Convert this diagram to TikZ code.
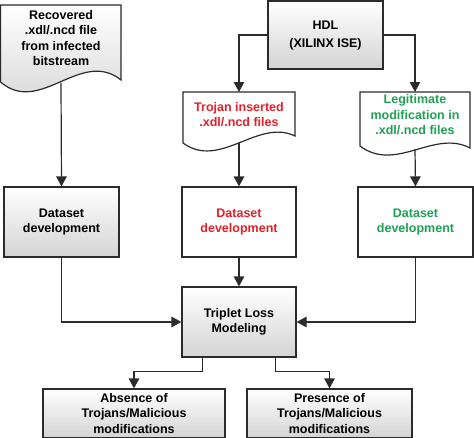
\documentclass[tikz,border=0pt]{standalone}
\usepackage{fontspec}
\setmainfont{Liberation Sans}
\usetikzlibrary{arrows.meta,calc}
\definecolor{tred}{HTML}{E3202A}
\definecolor{tgreen}{HTML}{1FA055}
\definecolor{edge}{HTML}{2B2B2B}
\tikzset{
  box/.style={draw=edge,line width=1.2pt,rectangle,inner sep=0pt,align=center,
    font=\bfseries\fontsize{12.5}{15.5}\selectfont},
  grad/.style={top color=white,bottom color=black!17},
  plain/.style={fill=white},
  doctext/.style={align=center,inner sep=0pt,font=\bfseries\fontsize{12.5}{15.5}\selectfont},
  docshape/.style={draw=edge,line width=1.2pt},
  arr/.style={draw=edge,line width=1.2pt,-{Triangle[length=10pt,width=10.5pt]}},
  ln/.style={draw=edge,line width=1.2pt}
}
\begin{document}
\begin{tikzpicture}[x=1pt,y=-1pt]
\useasboundingbox (0,0) rectangle (474,437);
\begin{scope}
\clip (0,0) rectangle (474,437);
% documents
\path[docshape,grad] (0.6,5) -- (121,5) -- (121,80) .. controls (81,48) and (40,116) .. (0.6,82) -- cycle;
\path[docshape,plain] (183,92) -- (295,92) -- (295,136) .. controls (258,118) and (220,170) .. (183,143) -- cycle;
\path[docshape,plain] (360,92) -- (470,92) -- (470,148) .. controls (434,129) and (396,173) .. (360,146) -- cycle;
\coordinate (doc1b) at (61,83);
\coordinate (trojb) at (239,143);
\coordinate (legitb) at (415,149);
\node[doctext] (doc1) at (61,38) {Recovered\\.xdl/.ncd file\\from infected\\bitstream};
\node[doctext,text=tred] (troj) at (239,114.5) {Trojan inserted\\.xdl/.ncd files};
\node[doctext,text=tgreen] (legit) at (415,115) {Legitimate\\modification in\\.xdl/.ncd files};
\coordinate (trojt) at (239,92);
\coordinate (legitt) at (415,92);
% boxes
\node[box,grad,minimum width=115pt,minimum height=68pt] (hdl) at (325.5,35) {HDL\\[2.5pt](XILINX ISE)};
\node[box,grad,minimum width=115pt,minimum height=70pt] (ds1) at (61.5,222) {Dataset\\development};
\node[box,plain,text=tred,minimum width=114pt,minimum height=70pt] (ds2) at (239,222) {Dataset\\development};
\node[box,plain,text=tgreen,minimum width=115pt,minimum height=70pt] (ds3) at (415.5,222) {Dataset\\development};
\node[box,grad,minimum width=114pt,minimum height=70pt] (tl) at (239,322) {Triplet Loss\\Modeling};
\node[box,grad,minimum width=182pt,minimum height=49pt] (abs) at (134,413.5) {Absence of\\Trojans/Malicious\\modifications};
\node[box,grad,minimum width=165pt,minimum height=49pt] (pres) at (329.5,413.5) {Presence of\\Trojans/Malicious\\modifications};
% connectors
\draw[arr] (hdl.west) -| (trojt);
\draw[arr] (hdl.east) -| (legitt);
\draw[arr] (doc1b) -- (ds1.north);
\draw[arr] (trojb) -- (ds2.north);
\draw[arr] (legitb) -- (ds3.north);
\draw[arr] (ds2.south) -- (tl.north);
\draw[arr] (ds1.south) |- (tl.west);
\draw[arr] (ds3.south) |- (tl.east);
\draw[arr] ([xshift=21pt]tl.south west) -- ++(0,14) -| (abs.north);
\draw[arr] ([xshift=-21pt]tl.south east) -- ++(0,14) -| (pres.north);
\end{scope}
\end{tikzpicture}
\end{document}
